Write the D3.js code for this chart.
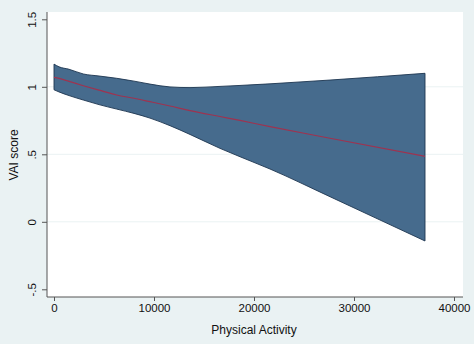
<!DOCTYPE html>
<html><head><meta charset="utf-8">
<script src="https://cdn.jsdelivr.net/npm/d3@7"></script>
<style>html,body{margin:0;padding:0;background:#eaf2f3;}svg{display:block;}</style>
</head><body>
<script>
const activity = [0, 500, 1500, 2930, 4500, 6270, 8000, 9600, 11600, 13600, 16600, 18600, 21600, 27600, 37100];
const upperCI  = [1.168, 1.148, 1.13, 1.095, 1.08, 1.063, 1.042, 1.02, 0.999, 0.994, 1.003, 1.01, 1.022, 1.05, 1.10];
const lowerCI  = [0.978, 0.962, 0.935, 0.902, 0.868, 0.835, 0.803, 0.768, 0.712, 0.647, 0.544, 0.482, 0.391, 0.186, -0.142];
const fitted   = [1.07, 1.062, 1.04, 1.008, 0.975, 0.939, 0.915, 0.89, 0.858, 0.824, 0.78, 0.751, 0.705, 0.619, 0.485];
const xTicks = [0, 10000, 20000, 30000, 40000];
const yTicks = [-0.5, 0, 0.5, 1, 1.5];
const yTickLabels = ["-.5", "0", ".5", "1", "1.5"];
const yGrid = [0, 0.5, 1];

const W = 474, H = 344;
const svg = d3.select("body").append("svg").attr("width", W).attr("height", H);
const font = "Liberation Sans, Arial, sans-serif";

const x = d3.scaleLinear().domain([0, 40000]).range([54, 454]);
const y = d3.scaleLinear().domain([-0.5, 1.5]).range([289.3, 19.3]);

// plot region
svg.append("rect").attr("x", 47).attr("y", 12).attr("width", 416).attr("height", 285).attr("fill", "#ffffff");

// gridlines
svg.selectAll("line.grid").data(yGrid).enter().append("line")
  .attr("x1", 47).attr("x2", 463).attr("y1", d => y(d)).attr("y2", d => y(d))
  .attr("stroke", "#eaf2f3").attr("stroke-width", 1);

const data = activity.map((a, i) => ({a, u: upperCI[i], l: lowerCI[i], f: fitted[i]}));

const area = d3.area().x(d => x(d.a)).y0(d => y(d.l)).y1(d => y(d.u)).curve(d3.curveMonotoneX);
svg.append("path")
  .attr("d", area(data) + "Z")
  .attr("fill", "#466b8d").attr("stroke", "#1d3550").attr("stroke-width", 0.9);

const line = d3.line().x(d => x(d.a)).y(d => y(d.f)).curve(d3.curveMonotoneX);
svg.append("path").datum(data).attr("d", line).attr("fill", "none")
  .attr("stroke", "#9e3350").attr("stroke-width", 1.2);

// axes
const xAxis = d3.axisBottom(x).tickValues(xTicks).tickSize(4).tickPadding(3).tickFormat(d3.format("d"));
const gx = svg.append("g").attr("transform", "translate(0,297)").call(xAxis);
gx.select(".domain").remove();
gx.append("line").attr("x1", 47).attr("x2", 463).attr("y1", 0).attr("y2", 0).attr("stroke", "#555");
gx.selectAll(".tick line").attr("stroke", "#555");
gx.selectAll(".tick text").attr("font-family", font).attr("font-size", 11.5).attr("fill", "#111");

const yAxis = d3.axisLeft(y).tickValues(yTicks).tickSize(5).tickFormat((d, i) => yTickLabels[i]);
const gy = svg.append("g").attr("transform", "translate(47,0)").call(yAxis);
gy.select(".domain").remove();
gy.append("line").attr("x1", 0).attr("x2", 0).attr("y1", 12).attr("y2", 297).attr("stroke", "#555");
gy.selectAll(".tick line").attr("stroke", "#555");
gy.selectAll(".tick text")
  .attr("font-family", font).attr("font-size", 11.5).attr("fill", "#111")
  .attr("x", 0).attr("dy", null)
  .attr("text-anchor", "middle")
  .attr("transform", "translate(-11,0) rotate(-90)")
  .attr("y", 0);

svg.append("text").attr("x", 254).attr("y", 334).attr("text-anchor", "middle")
  .attr("font-family", font).attr("font-size", 12).attr("fill", "#111").text("Physical Activity");
svg.append("text").attr("transform", "translate(18,155) rotate(-90)").attr("text-anchor", "middle")
  .attr("font-family", font).attr("font-size", 12).attr("fill", "#111").text("VAI score");
</script>
</body></html>
